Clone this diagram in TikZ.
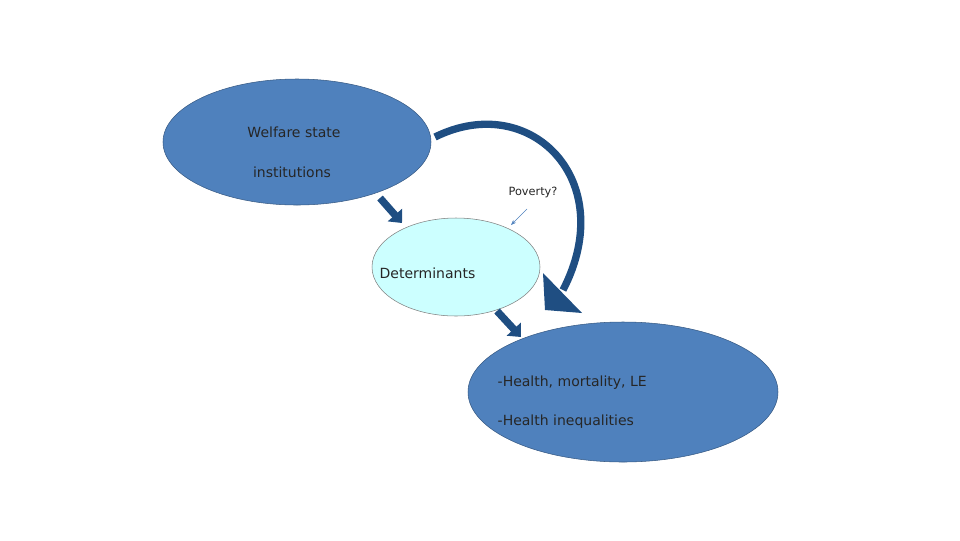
\documentclass[tikz,border=0pt]{standalone}
\usepackage{fontspec}
\setmainfont{DejaVu Sans}
\usetikzlibrary{arrows.meta}
\definecolor{blueA}{HTML}{4F81BD}
\definecolor{darkA}{HTML}{1F4E82}
\definecolor{cyanA}{HTML}{CCFFFF}
\begin{document}
\begin{tikzpicture}[x=0.75pt,y=-0.75pt,
  big/.style={ellipse shape},
  fatarrow/.style={draw=darkA,line width=5.5pt,-{Triangle[length=8pt,width=14pt]}},
  txt/.style={font=\fontsize{10.5}{12}\selectfont,text=black!85}]
\useasboundingbox (0,0) rectangle (960,540);
\fill[blueA,draw=blueA!70!black] (297,142) ellipse [x radius=134,y radius=63];
\fill[cyanA,draw=gray] (456,267) ellipse [x radius=84,y radius=49];
\fill[blueA,draw=blueA!70!black] (623,392) ellipse [x radius=155,y radius=70];
\node[txt] (w1) at (294,132) {Welfare state};
\node[txt] (w2) at (292,172) {institutions};
\node[txt,anchor=west] (det) at (375,273) {Determinants};
\node[txt,anchor=west] (h1) at (493,383) {-Health, mortality, LE};
\node[txt,anchor=west] (h2) at (493,422) {-Health inequalities};
\node[font=\fontsize{8.5}{10}\selectfont,text=black!85] (pov) at (533,192) {Poverty?};
\coordinate (a1) at (380,198); \coordinate (b1) at (402,223);
\coordinate (a2) at (497,311); \coordinate (b2) at (521,337);
\draw[fatarrow] (a1) -- (b1);
\draw[fatarrow] (a2) -- (b2);
\coordinate (c0) at (435,137); \coordinate (c1) at (563,290);
\draw[draw=darkA,line width=5.5pt] (c0) .. controls (530,90) and (620,180) .. (c1);
\fill[darkA] (543,273) -- (582,313) -- (545,310) -- cycle;
\coordinate (p1) at (527,209); \coordinate (p2) at (511,225);
\draw[blueA,-{Stealth[length=4pt]},thin] (p1) -- (p2);
\end{tikzpicture}
\end{document}
